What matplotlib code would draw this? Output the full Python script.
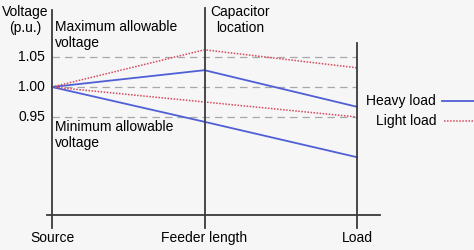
import matplotlib.pyplot as plt

# positions along the feeder: source, capacitor, load
pos = [0, 1, 2]
pos_labels = ["Source", "Feeder length", "Load"]

# voltage profiles (p.u.)
heavy_with_cap = [1.00, 1.028, 0.967]
heavy_no_cap = [1.00, 0.942, 0.883]
light_with_cap = [1.00, 1.062, 1.032]
light_no_cap = [1.00, 0.975, 0.950]

yticks = [1.05, 1.00, 0.95]
ytick_labels = ["1.05", "1.00", "0.95"]

blue = "#4f5fd6"
red = "#d64a5a"
grey = "#3a3a3a"

plt.rcParams["font.family"] = ["Liberation Sans", "DejaVu Sans"]

fig = plt.figure(figsize=(4.74, 2.5), dpi=100, facecolor="#f6f6f6")
ax = fig.add_axes([0, 0, 1, 1])
ax.set_facecolor("#f6f6f6")
ax.set_axis_off()

px = 152.5
ax.set_xlim(-52 / px, (474 - 52) / px)
ax.set_ylim(1.0 - 163 / 600, 1.0 + 87 / 600)

# y at pixel -> data
def yp(p):
    return 1.0 + (87 - p) / 600.0

# dashed reference lines
for yv in yticks:
    ax.plot([0, 2], [yv, yv], color="#a8a8a8", lw=0.9, ls=(0, (6, 4)), zorder=1)

# vertical lines
ax.plot([0, 0], [yp(228), yp(10)], color=grey, lw=1.3, zorder=3)
ax.plot([1, 1], [yp(228), yp(8)], color=grey, lw=1.3, zorder=3)
ax.plot([2, 2], [yp(228), yp(43)], color=grey, lw=1.3, zorder=3)
# horizontal axis
ax.plot([-5 / px, 328 / px], [yp(215), yp(215)], color=grey, lw=1.3, zorder=3)

ax.plot(pos, heavy_with_cap, color=blue, lw=1.3, zorder=2)
ax.plot(pos, heavy_no_cap, color=blue, lw=1.3, zorder=2)
ax.plot(pos, light_with_cap, color=red, lw=1.1, ls=(0, (1, 1)), zorder=2)
ax.plot(pos, light_no_cap, color=red, lw=1.1, ls=(0, (1, 1)), zorder=2)

fs = 10
ls = 1.15
for yv, lab in zip(yticks, ytick_labels):
    ax.text(-7 / px, yv, lab, ha="right", va="center", fontsize=fs)

for xv, lab in zip(pos, pos_labels):
    ax.text(xv, yp(238), lab, ha="center", va="center", fontsize=fs)

ax.text(-27 / px, yp(20), "Voltage\n(p.u.)", ha="center", va="center",
        fontsize=fs, linespacing=ls)
ax.text(3 / px, yp(35), "Maximum allowable\nvoltage", ha="left", va="center",
        fontsize=fs, linespacing=ls)
ax.text(1 + 6 / px, yp(20), "Capacitor\nlocation", ha="left", va="center",
        fontsize=fs, linespacing=ls, multialignment="center")
ax.text(3 / px, yp(135), "Minimum allowable\nvoltage", ha="left", va="center",
        fontsize=fs, linespacing=ls)

# legend
ax.text((436 - 52) / px, yp(101), "Heavy load", ha="right", va="center", fontsize=fs)
ax.plot([(442 - 52) / px, (474 - 52) / px], [yp(101), yp(101)], color=blue, lw=1.3,
        clip_on=False)
ax.text((436 - 52) / px, yp(121), "Light load", ha="right", va="center", fontsize=fs)
ax.plot([(444 - 52) / px, (474 - 52) / px], [yp(121), yp(121)], color=red, lw=1.1,
        ls=(0, (1, 1)), clip_on=False)

fig.savefig("out.png", dpi=100, facecolor=fig.get_facecolor())
